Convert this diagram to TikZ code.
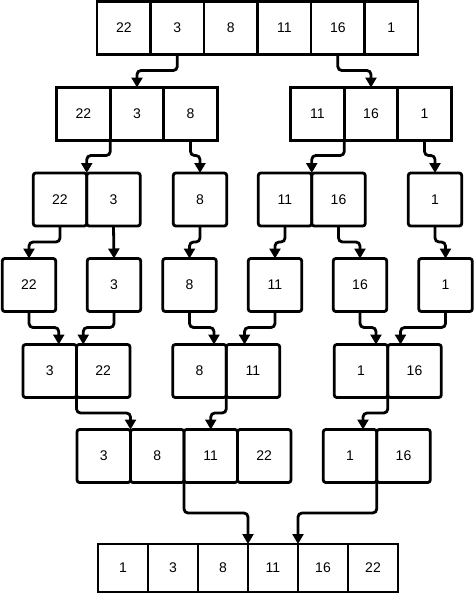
\documentclass[tikz,border=0pt]{standalone}
\usepackage{fontspec}
\setmainfont{Liberation Sans}
\usepackage{tikz}
\usetikzlibrary{arrows.meta, positioning}

\begin{document}
\begin{tikzpicture}[
    x=1pt, y=-1pt,
    font=\fontsize{14}{16}\selectfont,
    cell/.style={rectangle, draw=black, line width=2.8pt, minimum width=53.5pt, minimum height=53pt, inner sep=0pt, outer sep=0pt},
    rcell/.style={cell, rounded corners=2.5pt},
    gcell/.style={cell, minimum width=50pt, minimum height=48pt},
    line/.style={draw=black, line width=2.8pt, rounded corners=4pt, -{Triangle[width=11pt, length=10pt]}}
]
    \useasboundingbox (0,0) rectangle (474,595);

    % Reihe 1 (Eingabe)
    \node [cell] (a1) at (123.8,28) {22};
    \node [cell, right=0pt of a1] (a2) {3};
    \node [cell, right=0pt of a2] (a3) {8};
    \node [cell, right=0pt of a3] (a4) {11};
    \node [cell, right=0pt of a4] (a5) {16};
    \node [cell, right=0pt of a5] (a6) {1};

    % Reihe 2
    \node [cell] (b1) at (83.5,114) {22};
    \node [cell, right=0pt of b1] (b2) {3};
    \node [cell, right=0pt of b2] (b3) {8};
    \node [cell] (b4) at (317.5,114) {11};
    \node [cell, right=0pt of b4] (b5) {16};
    \node [cell, right=0pt of b5] (b6) {1};

    % Reihe 3
    \node [rcell] (c1) at (60,199.5) {22};
    \node [rcell, right=0pt of c1] (c2) {3};
    \node [rcell] (c3) at (200,199.5) {8};
    \node [rcell] (c4) at (285,199.5) {11};
    \node [rcell, right=0pt of c4] (c5) {16};
    \node [rcell] (c6) at (435,199.5) {1};

    % Reihe 4 (Einzelelemente)
    \node [rcell] (d1) at (29,285) {22};
    \node [rcell] (d2) at (114,285) {3};
    \node [rcell] (d3) at (189.5,285) {8};
    \node [rcell] (d4) at (275,285) {11};
    \node [rcell] (d5) at (360,285) {16};
    \node [rcell] (d6) at (445.5,285) {1};

    % Reihe 5
    \node [rcell] (e1) at (49.75,371) {3};
    \node [rcell, right=0pt of e1] (e2) {22};
    \node [rcell] (e3) at (199.5,371) {8};
    \node [rcell, right=0pt of e3] (e4) {11};
    \node [rcell] (e5) at (361,371) {1};
    \node [rcell, right=0pt of e5] (e6) {16};

    % Reihe 6
    \node [rcell] (f1) at (103.75,456) {3};
    \node [rcell, right=0pt of f1] (f2) {8};
    \node [rcell, right=0pt of f2] (f3) {11};
    \node [rcell, right=0pt of f3] (f4) {22};
    \node [rcell] (f5) at (350,456) {1};
    \node [rcell, right=0pt of f5] (f6) {16};

    % Reihe 7 (Ergebnis)
    \node [gcell] (g1) at (123,568) {1};
    \node [gcell, right=0pt of g1] (g2) {3};
    \node [gcell, right=0pt of g2] (g3) {8};
    \node [gcell, right=0pt of g3] (g4) {11};
    \node [gcell, right=0pt of g4] (g5) {16};
    \node [gcell, right=0pt of g5] (g6) {22};

    % Teilen
    \draw [line] (a2.south) -- ++(0,16) -| (b2.north);
    \draw [line] (a5.south) -- ++(0,16) -| (b5.north);

    \draw [line] (b1.south east) -- ++(0,15) -| (c1.north east);
    \draw [line] (b3.south) -- ++(0,15) -| (c3.north);
    \draw [line] (b4.south east) -- ++(0,15) -| (c4.north east);
    \draw [line] (b6.south) -- ++(0,15) -| (c6.north);

    \draw [line] (c1.south) -- ++(0,16) -| (d1.north);
    \draw [line] (c2.south) -- (d2.north);
    \draw [line] (c3.south) -- ++(0,16) -| (d3.north);
    \draw [line] (c4.south) -- ++(0,16) -| (d4.north);
    \draw [line] (c5.south) -- ++(0,16) -| (d5.north);
    \draw [line] (c6.south) -- ++(0,16) -| (d6.north);

    % Zusammenfuehren
    \draw [line] (d1.south) -- ++(0,16) -| ([xshift=9pt]e1.north);
    \draw [line] (d2.south) -- ++(0,16) -| ([xshift=-20pt]e2.north);
    \draw [line] (d3.south) -- ++(0,16) -| ([xshift=14.5pt]e3.north);
    \draw [line] (d4.south) -- ++(0,16) -| ([xshift=-8.5pt]e4.north);
    \draw [line] (d5.south) -- ++(0,16) -| ([xshift=15pt]e5.north);
    \draw [line] (d6.south) -- ++(0,16) -| ([xshift=-14pt]e6.north);

    \draw [line] (e1.south east) -- ++(0,15.5) -| (f1.north east);
    \draw [line] (e3.south east) -- ++(0,15.5) -| (f3.north);
    \draw [line] (e5.south east) -- ++(0,15.5) -| ([xshift=13pt]f5.north);

    \draw [line] (f2.south east) -- ++(0,30.5) -| (g4.north west);
    \draw [line] (f5.south east) -- ++(0,30.5) -| (g5.north west);

\end{tikzpicture}
\end{document}
